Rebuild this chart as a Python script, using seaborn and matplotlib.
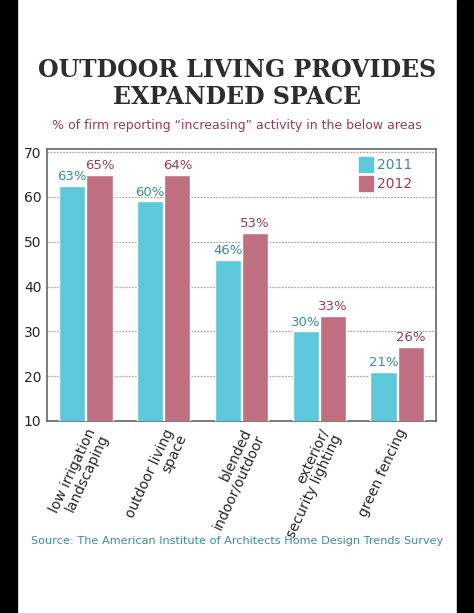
import matplotlib.pyplot as plt
import seaborn as sns
import pandas as pd
from matplotlib.patches import Rectangle

categories = ['low irrigation\nlandscaping', 'outdoor living\nspace', 'blended\nindoor/outdoor',
              'exterior/\nsecurity lighting', 'green fencing']
vals_2011 = [62.5, 59, 46, 30, 21]
vals_2012 = [65, 65, 52, 33.5, 26.5]
labels_2011 = ['63%', '60%', '46%', '30%', '21%']
labels_2012 = ['65%', '64%', '53%', '33%', '26%']
years = ['2011', '2012']

c11 = '#5cc8d9'
c12 = '#c06f80'
teal_txt = '#3a8f96'
mauve_txt = '#9a3c55'

df = pd.DataFrame({
    'cat': categories * 2,
    'val': vals_2011 + vals_2012,
    'year': [years[0]] * 5 + [years[1]] * 5,
})

sns.set_style('white')
fig = plt.figure(figsize=(4.74, 6.13), dpi=100)
fig.patches.append(Rectangle((0, 0), 17 / 474, 1, transform=fig.transFigure, color='black', zorder=0))
fig.patches.append(Rectangle((457 / 474, 0), 17 / 474, 1, transform=fig.transFigure, color='black', zorder=0))

ax = fig.add_axes([47 / 474, 1 - 421 / 613, 389 / 474, 272 / 613])
sns.barplot(data=df, x='cat', y='val', hue='year', palette=[c11, c12], ax=ax,
            width=0.7, gap=0.04, saturation=1, legend=False, zorder=3)
ax.set_ylim(10, 70.7)
ax.set_yticks(range(10, 71, 10))
ax.set_xlabel('')
ax.set_ylabel('')
ax.grid(axis='y', color='#aaaaaa', linestyle=(0, (1.5, 1)), linewidth=0.9, zorder=0)
for s in ax.spines.values():
    s.set_color('#666666')
    s.set_linewidth(1.2)
ax.tick_params(axis='y', labelsize=10, length=0, pad=4)
ax.set_xticks(range(len(categories)))
ax.set_xticklabels(categories, rotation=65, ha='right', rotation_mode='anchor',
                   fontsize=10, linespacing=1.0)
ax.tick_params(axis='x', length=0, pad=4)

for cont, labs, col in zip(ax.containers, [labels_2011, labels_2012], [teal_txt, mauve_txt]):
    ax.bar_label(cont, labels=labs, color=col, fontsize=9.5, padding=2)

# legend boxes
for i, (yr, col, tc) in enumerate(zip(years, [c11, c12], [teal_txt, mauve_txt])):
    fig.patches.append(Rectangle((359 / 474, 1 - (172 + i * 19) / 613), 14 / 474, 15 / 613,
                                 transform=fig.transFigure, color=col, zorder=5))
    fig.text(377 / 474, 1 - (165 + i * 19) / 613, yr, color=tc, fontsize=10, va='center')

fig.text(0.5, 1 - 70 / 613, 'OUTDOOR LIVING PROVIDES', ha='center', va='center',
         fontsize=17, family='DejaVu Serif', weight='bold', color='#2d2d2d')
fig.text(0.5, 1 - 97 / 613, 'EXPANDED SPACE', ha='center', va='center',
         fontsize=17, family='DejaVu Serif', weight='bold', color='#2d2d2d')
fig.text(0.5, 1 - 125 / 613, '% of firm reporting \u201cincreasing\u201d activity in the below areas',
         ha='center', va='center', fontsize=9, color=mauve_txt)
fig.text(0.5, 1 - 541 / 613, 'Source: The American Institute of Architects Home Design Trends Survey',
         ha='center', va='center', fontsize=8.1, color=teal_txt)

fig.savefig('out.png', dpi=100)
